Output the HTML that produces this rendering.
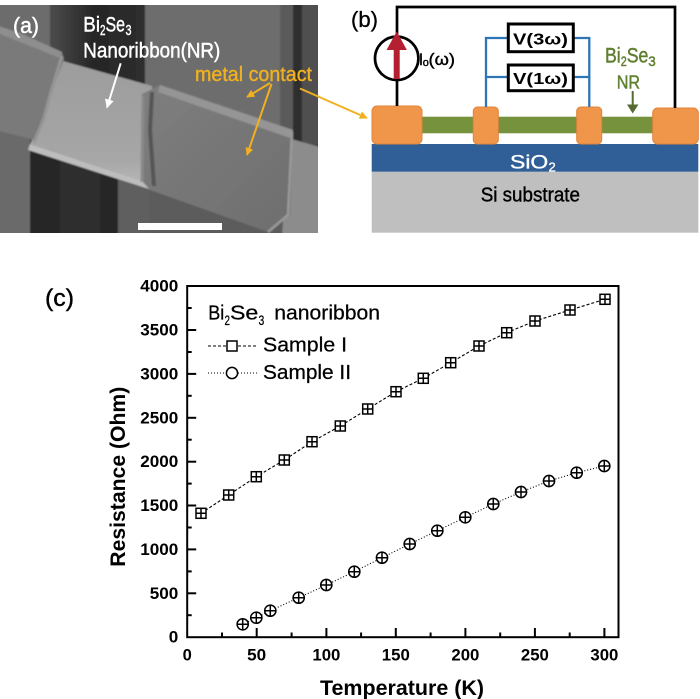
<!DOCTYPE html>
<html><head><meta charset="utf-8"><style>
html,body{margin:0;padding:0;background:#fff;}
svg{display:block;}
text{font-family:"Liberation Sans",Arial,sans-serif;}
</style></head><body>
<svg width="700" height="699" viewBox="0 0 700 699" xmlns="http://www.w3.org/2000/svg">
<defs>
<marker id="ah" viewBox="0 0 10 10" refX="9" refY="5" markerWidth="4" markerHeight="4" orient="auto"><path d="M0,0 L10,5 L0,10 z" fill="#f0b020"/></marker>
<marker id="ahw" viewBox="0 0 10 10" refX="9" refY="5" markerWidth="4.5" markerHeight="4.5" orient="auto"><path d="M0,0 L10,5 L0,10 z" fill="#fff"/></marker>
<linearGradient id="gDark" x1="0" x2="1" y1="0" y2="0"><stop offset="0" stop-color="#4c4c4c"/><stop offset="0.45" stop-color="#262626"/><stop offset="1" stop-color="#2e2e2e"/></linearGradient>
<linearGradient id="gRib" x1="0" x2="0" y1="0" y2="1"><stop offset="0" stop-color="#9c9c9c"/><stop offset="0.8" stop-color="#a6a6a6"/><stop offset="1" stop-color="#b6b6b6"/></linearGradient>
<linearGradient id="gBlk" x1="0" x2="1" y1="0" y2="1"><stop offset="0" stop-color="#7e7e7e"/><stop offset="1" stop-color="#6e6e6e"/></linearGradient>
<clipPath id="semclip"><rect x="0" y="5" width="318" height="228"/></clipPath>
<filter id="soft" x="0" y="0" width="1" height="1"><feGaussianBlur stdDeviation="0.8"/></filter>
</defs>

<!-- ===== Panel (a) SEM ===== -->
<g clip-path="url(#semclip)">
 <g filter="url(#soft)">
  <rect x="-5" y="0" width="330" height="240" fill="#3a3a3a"/>
  <rect x="-5" y="0" width="57" height="65" fill="#6c6c6c"/>
  <rect x="50" y="0" width="97" height="95" fill="url(#gDark)"/>
  <rect x="145" y="0" width="148" height="135" fill="#6d6d6d"/>
  <rect x="280" y="0" width="13" height="135" fill="#5a5a5a"/>
  <rect x="293" y="0" width="30" height="145" fill="#2e2e2e"/>
  <rect x="302" y="0" width="21" height="145" fill="#505050"/>
  <rect x="-5" y="128" width="37" height="110" fill="#6a6a6a"/>
  <rect x="30" y="140" width="95" height="98" fill="#262626"/>
  <rect x="60" y="140" width="40" height="98" fill="#2e2e2e"/>
  <rect x="118" y="150" width="40" height="88" fill="#5e5e5e"/>
  <rect x="150" y="180" width="140" height="58" fill="#5c5c5c"/>
  <polygon points="288,138 323,148 323,238 282,238" fill="#8c8c8c"/>
  <polygon points="52,58 152,86 152,184 30,144 42,120 48,95" fill="url(#gRib)"/>
  <polygon points="30,144 152,184 152,190 28,150" fill="#bdbdbd"/>
  <polygon points="-5,25 20,33 62,52 64,60 52,90 46,115 36,140 -5,130" fill="#7a7a7a"/>
  <polygon points="-5,25 20,33 62,52 60,58 -5,32" fill="#8e8e8e"/>
  <polyline points="62,56 50,95 44,118 34,142" fill="none" stroke="#959595" stroke-width="3"/>
  <polygon points="142,94 160,85 293,130 290,215 268,232 150,190 143,182" fill="url(#gBlk)"/>
  <polygon points="160,85 293,130 290,138 158,92" fill="#959595"/>
  <polyline points="152,92 150,130 154,186" fill="none" stroke="#545454" stroke-width="4"/>
  <polyline points="143,96 142,182" fill="none" stroke="#8a8a8a" stroke-width="3"/>
  <polyline points="292,132 288,215 268,232" fill="none" stroke="#9a9a9a" stroke-width="2.5"/>
 </g>
  <rect x="138" y="223" width="84" height="7" fill="#fff"/>
</g>
<!-- (a) texts -->
<g fill="#fff" stroke="#fff" stroke-width="0.45">
<text x="13" y="33" font-size="22" textLength="26" lengthAdjust="spacingAndGlyphs">(a)</text>
<text x="83.3" y="31.7" font-size="21" textLength="16.7" lengthAdjust="spacingAndGlyphs">Bi</text>
<text x="100" y="35" font-size="15" textLength="5.5" lengthAdjust="spacingAndGlyphs">2</text>
<text x="105.5" y="31.7" font-size="21" textLength="19.5" lengthAdjust="spacingAndGlyphs">Se</text>
<text x="125.5" y="35" font-size="15" textLength="6" lengthAdjust="spacingAndGlyphs">3</text>
<text x="83.3" y="57.3" font-size="21" textLength="137" lengthAdjust="spacingAndGlyphs">Nanoribbon(NR)</text>
</g>
<line x1="120.7" y1="63.3" x2="107" y2="107.5" stroke="#fff" stroke-width="2" marker-end="url(#ahw)"/>
<text x="195" y="81" font-size="20" fill="#f0b020" stroke="#f0b020" stroke-width="0.4" textLength="117" lengthAdjust="spacingAndGlyphs">metal contact</text>
<line x1="270" y1="83" x2="247" y2="97" stroke="#f0b020" stroke-width="2" marker-end="url(#ah)"/>
<line x1="271.5" y1="84" x2="247" y2="155" stroke="#f0b020" stroke-width="2" marker-end="url(#ah)"/>
<line x1="300" y1="88.5" x2="367" y2="118" stroke="#f0b020" stroke-width="2" marker-end="url(#ah)"/>

<!-- ===== Panel (b) schematic ===== -->
<text x="351" y="27" font-size="22" fill="#000" stroke="#000" stroke-width="0.3" textLength="27" lengthAdjust="spacingAndGlyphs">(b)</text>
<rect x="371.7" y="171.7" width="326.6" height="61" fill="#bfbfbf"/>
<rect x="371.7" y="144" width="326.6" height="27.7" fill="#2f5f96"/>
<g fill="#fff" stroke="#fff" stroke-width="0.35">
<text x="510" y="168.3" font-size="19.5" textLength="38.3" lengthAdjust="spacingAndGlyphs">SiO</text>
<text x="548.5" y="171.5" font-size="13">2</text>
</g>
<text x="480.7" y="201.7" font-size="20" fill="#000" stroke="#000" stroke-width="0.4" textLength="99.3" lengthAdjust="spacingAndGlyphs">Si substrate</text>
<rect x="420" y="116.7" width="234" height="16.6" fill="#76923c"/>
<rect x="372" y="106" width="50" height="38" rx="5" fill="#f0964a" stroke="#e0843a" stroke-width="1"/>
<rect x="473.3" y="107" width="25" height="37" rx="4" fill="#f0964a" stroke="#e0843a" stroke-width="1"/>
<rect x="576.7" y="107" width="25" height="37" rx="4" fill="#f0964a" stroke="#e0843a" stroke-width="1"/>
<rect x="652.7" y="108" width="45.6" height="36" rx="5" fill="#f0964a" stroke="#e0843a" stroke-width="1"/>
<polyline points="397,36.6 397,7 675,7 675,108" fill="none" stroke="#000" stroke-width="2.7"/>
<line x1="397" y1="80" x2="397" y2="106" stroke="#000" stroke-width="2.7"/>
<circle cx="396.7" cy="58.3" r="21.7" fill="#fff" stroke="#000" stroke-width="2.7"/>
<line x1="396.7" y1="79" x2="396.7" y2="48" stroke="#b52030" stroke-width="6"/>
<polygon points="386.5,50 406.9,50 396.7,31.5" fill="#b52030"/>
<g fill="#000" stroke="#000" stroke-width="0.4">
<text x="419" y="65" font-size="17" textLength="4" lengthAdjust="spacingAndGlyphs">I</text>
<text x="422.7" y="66" font-size="11">o</text>
<text x="428.5" y="65" font-size="17" textLength="26.5" lengthAdjust="spacingAndGlyphs">(ω)</text>
</g>
<polyline points="486,107 486,38 508,38" fill="none" stroke="#2e75b6" stroke-width="2.3"/>
<polyline points="573,38 589.3,38 589.3,107" fill="none" stroke="#2e75b6" stroke-width="2.3"/>
<line x1="486" y1="77" x2="508" y2="77" stroke="#2e75b6" stroke-width="2.3"/>
<line x1="573" y1="77" x2="589.3" y2="77" stroke="#2e75b6" stroke-width="2.3"/>
<rect x="508.3" y="24" width="65" height="27.7" fill="#fff" stroke="#000" stroke-width="3"/>
<rect x="508.3" y="65" width="65" height="25.7" fill="#fff" stroke="#000" stroke-width="3"/>
<text x="513" y="44.5" font-size="16" font-weight="bold" fill="#000" textLength="55" lengthAdjust="spacingAndGlyphs">V(3ω)</text>
<text x="513" y="84" font-size="16" font-weight="bold" fill="#000" textLength="55" lengthAdjust="spacingAndGlyphs">V(1ω)</text>
<g fill="#5f7f2f" stroke="#5f7f2f" stroke-width="0.45">
<text x="605" y="62.7" font-size="21" textLength="15.7" lengthAdjust="spacingAndGlyphs">Bi</text>
<text x="620.7" y="66" font-size="14" textLength="6" lengthAdjust="spacingAndGlyphs">2</text>
<text x="626.7" y="62.7" font-size="21" textLength="21.6" lengthAdjust="spacingAndGlyphs">Se</text>
<text x="648.3" y="66" font-size="14" textLength="7.5" lengthAdjust="spacingAndGlyphs">3</text>
<text x="616.7" y="88.3" font-size="18.5" textLength="23.3" lengthAdjust="spacingAndGlyphs">NR</text>
</g>
<line x1="632.7" y1="91" x2="632.7" y2="106" stroke="#556b2f" stroke-width="2"/>
<polygon points="627,104.5 638.4,104.5 632.7,113.5" fill="#556b2f"/>

<!-- ===== Panel (c) chart ===== -->
<text x="45" y="306" font-size="24" fill="#000" stroke="#000" stroke-width="0.4" textLength="29" lengthAdjust="spacingAndGlyphs">(c)</text>
<rect x="187.2" y="286" width="431.3" height="351.2" fill="none" stroke="#000" stroke-width="2"/>
<g stroke="#000" stroke-width="2">
  <line x1="256.7" y1="637.2" x2="256.7" y2="628"/>
  <line x1="326.4" y1="637.2" x2="326.4" y2="628"/>
  <line x1="395.8" y1="637.2" x2="395.8" y2="628"/>
  <line x1="465.4" y1="637.2" x2="465.4" y2="628"/>
  <line x1="534.9" y1="637.2" x2="534.9" y2="628"/>
  <line x1="604.4" y1="637.2" x2="604.4" y2="628"/>
  <line x1="222" y1="637.2" x2="222" y2="632.5"/>
  <line x1="291.6" y1="637.2" x2="291.6" y2="632.5"/>
  <line x1="361.1" y1="637.2" x2="361.1" y2="632.5"/>
  <line x1="430.6" y1="637.2" x2="430.6" y2="632.5"/>
  <line x1="500.2" y1="637.2" x2="500.2" y2="632.5"/>
  <line x1="569.7" y1="637.2" x2="569.7" y2="632.5"/>
  <line x1="187.2" y1="593.3" x2="196.2" y2="593.3"/>
  <line x1="187.2" y1="549.4" x2="196.2" y2="549.4"/>
  <line x1="187.2" y1="505.5" x2="196.2" y2="505.5"/>
  <line x1="187.2" y1="461.7" x2="196.2" y2="461.7"/>
  <line x1="187.2" y1="417.8" x2="196.2" y2="417.8"/>
  <line x1="187.2" y1="373.9" x2="196.2" y2="373.9"/>
  <line x1="187.2" y1="330.0" x2="196.2" y2="330.0"/>
  <line x1="187.2" y1="615.2" x2="191.7" y2="615.2"/>
  <line x1="187.2" y1="571.4" x2="191.7" y2="571.4"/>
  <line x1="187.2" y1="527.5" x2="191.7" y2="527.5"/>
  <line x1="187.2" y1="483.6" x2="191.7" y2="483.6"/>
  <line x1="187.2" y1="439.7" x2="191.7" y2="439.7"/>
  <line x1="187.2" y1="395.8" x2="191.7" y2="395.8"/>
  <line x1="187.2" y1="352.0" x2="191.7" y2="352.0"/>
  <line x1="187.2" y1="308.0" x2="191.7" y2="308.0"/>
</g>
<g font-size="16.5" font-weight="bold" fill="#000" text-anchor="end">
  <text x="178.3" y="642.7" textLength="9.5" lengthAdjust="spacingAndGlyphs">0</text>
  <text x="178.3" y="598.8" textLength="28.5" lengthAdjust="spacingAndGlyphs">500</text>
  <text x="178.3" y="554.9" textLength="38" lengthAdjust="spacingAndGlyphs">1000</text>
  <text x="178.3" y="511.0" textLength="38" lengthAdjust="spacingAndGlyphs">1500</text>
  <text x="178.3" y="467.2" textLength="38" lengthAdjust="spacingAndGlyphs">2000</text>
  <text x="178.3" y="423.3" textLength="38" lengthAdjust="spacingAndGlyphs">2500</text>
  <text x="178.3" y="379.4" textLength="38" lengthAdjust="spacingAndGlyphs">3000</text>
  <text x="178.3" y="335.5" textLength="38" lengthAdjust="spacingAndGlyphs">3500</text>
  <text x="178.3" y="291.5" textLength="38" lengthAdjust="spacingAndGlyphs">4000</text>
</g>
<g font-size="16.5" font-weight="bold" fill="#000" text-anchor="middle">
  <text x="187.2" y="660.7">0</text>
  <text x="256.7" y="660.7" textLength="19" lengthAdjust="spacingAndGlyphs">50</text>
  <text x="326.4" y="660.7" textLength="28" lengthAdjust="spacingAndGlyphs">100</text>
  <text x="395.8" y="660.7" textLength="28" lengthAdjust="spacingAndGlyphs">150</text>
  <text x="465.4" y="660.7" textLength="28" lengthAdjust="spacingAndGlyphs">200</text>
  <text x="534.9" y="660.7" textLength="28" lengthAdjust="spacingAndGlyphs">250</text>
  <text x="604.4" y="660.7" textLength="28" lengthAdjust="spacingAndGlyphs">300</text>
</g>
<text x="402" y="695" font-size="21.5" font-weight="bold" fill="#000" text-anchor="middle" textLength="164" lengthAdjust="spacingAndGlyphs">Temperature (K)</text>
<text transform="translate(125,476.7) rotate(-90)" x="0" y="0" font-size="21.5" font-weight="bold" fill="#000" text-anchor="middle" textLength="180" lengthAdjust="spacingAndGlyphs">Resistance (Ohm)</text>

<polyline fill="none" stroke="#000" stroke-width="1.1" stroke-dasharray="3,2"
 points="201,513.3 228.7,495 256.3,476.7 284.3,460 312,441.7 340.3,426 367.7,409 396,391.7 423.3,378.3 450.7,362.7 479,346 506.7,332.7 535,321 570,310 605,299.3"/>
<polyline fill="none" stroke="#000" stroke-width="1.1" stroke-dasharray="1,2"
 points="242.7,624.3 256.3,617.7 270.3,610.7 298.7,597.7 326.3,585 354.3,571.7 382,557.7 409.7,544 437.3,530.7 465.3,517.3 493.3,504 521,492 549,481 576.7,472.7 604.3,466"/>

<g fill="#fff" stroke="#000" stroke-width="1.5">
<g transform="translate(201,513.3)"><rect x="-5" y="-5" width="10" height="10"/><path d="M-5,0H5M0,-5V5"/></g>
<g transform="translate(228.7,495)"><rect x="-5" y="-5" width="10" height="10"/><path d="M-5,0H5M0,-5V5"/></g>
<g transform="translate(256.3,476.7)"><rect x="-5" y="-5" width="10" height="10"/><path d="M-5,0H5M0,-5V5"/></g>
<g transform="translate(284.3,460)"><rect x="-5" y="-5" width="10" height="10"/><path d="M-5,0H5M0,-5V5"/></g>
<g transform="translate(312,441.7)"><rect x="-5" y="-5" width="10" height="10"/><path d="M-5,0H5M0,-5V5"/></g>
<g transform="translate(340.3,426)"><rect x="-5" y="-5" width="10" height="10"/><path d="M-5,0H5M0,-5V5"/></g>
<g transform="translate(367.7,409)"><rect x="-5" y="-5" width="10" height="10"/><path d="M-5,0H5M0,-5V5"/></g>
<g transform="translate(396,391.7)"><rect x="-5" y="-5" width="10" height="10"/><path d="M-5,0H5M0,-5V5"/></g>
<g transform="translate(423.3,378.3)"><rect x="-5" y="-5" width="10" height="10"/><path d="M-5,0H5M0,-5V5"/></g>
<g transform="translate(450.7,362.7)"><rect x="-5" y="-5" width="10" height="10"/><path d="M-5,0H5M0,-5V5"/></g>
<g transform="translate(479,346)"><rect x="-5" y="-5" width="10" height="10"/><path d="M-5,0H5M0,-5V5"/></g>
<g transform="translate(506.7,332.7)"><rect x="-5" y="-5" width="10" height="10"/><path d="M-5,0H5M0,-5V5"/></g>
<g transform="translate(535,321)"><rect x="-5" y="-5" width="10" height="10"/><path d="M-5,0H5M0,-5V5"/></g>
<g transform="translate(570,310)"><rect x="-5" y="-5" width="10" height="10"/><path d="M-5,0H5M0,-5V5"/></g>
<g transform="translate(605,299.3)"><rect x="-5" y="-5" width="10" height="10"/><path d="M-5,0H5M0,-5V5"/></g>
</g>
<g fill="#fff" stroke="#000" stroke-width="1.5">
<g transform="translate(242.7,624.3)"><circle r="5.6"/><path d="M-5.6,0H5.6M0,-5.6V5.6"/></g>
<g transform="translate(256.3,617.7)"><circle r="5.6"/><path d="M-5.6,0H5.6M0,-5.6V5.6"/></g>
<g transform="translate(270.3,610.7)"><circle r="5.6"/><path d="M-5.6,0H5.6M0,-5.6V5.6"/></g>
<g transform="translate(298.7,597.7)"><circle r="5.6"/><path d="M-5.6,0H5.6M0,-5.6V5.6"/></g>
<g transform="translate(326.3,585)"><circle r="5.6"/><path d="M-5.6,0H5.6M0,-5.6V5.6"/></g>
<g transform="translate(354.3,571.7)"><circle r="5.6"/><path d="M-5.6,0H5.6M0,-5.6V5.6"/></g>
<g transform="translate(382,557.7)"><circle r="5.6"/><path d="M-5.6,0H5.6M0,-5.6V5.6"/></g>
<g transform="translate(409.7,544)"><circle r="5.6"/><path d="M-5.6,0H5.6M0,-5.6V5.6"/></g>
<g transform="translate(437.3,530.7)"><circle r="5.6"/><path d="M-5.6,0H5.6M0,-5.6V5.6"/></g>
<g transform="translate(465.3,517.3)"><circle r="5.6"/><path d="M-5.6,0H5.6M0,-5.6V5.6"/></g>
<g transform="translate(493.3,504)"><circle r="5.6"/><path d="M-5.6,0H5.6M0,-5.6V5.6"/></g>
<g transform="translate(521,492)"><circle r="5.6"/><path d="M-5.6,0H5.6M0,-5.6V5.6"/></g>
<g transform="translate(549,481)"><circle r="5.6"/><path d="M-5.6,0H5.6M0,-5.6V5.6"/></g>
<g transform="translate(576.7,472.7)"><circle r="5.6"/><path d="M-5.6,0H5.6M0,-5.6V5.6"/></g>
<g transform="translate(604.3,466)"><circle r="5.6"/><path d="M-5.6,0H5.6M0,-5.6V5.6"/></g>
</g>

<g fill="#000" stroke="#000" stroke-width="0.25">
<text x="208.3" y="319.3" font-size="20" textLength="16" lengthAdjust="spacingAndGlyphs">Bi</text>
<text x="224.5" y="325" font-size="14" textLength="5.5" lengthAdjust="spacingAndGlyphs">2</text>
<text x="230" y="319.3" font-size="20" textLength="28.3" lengthAdjust="spacingAndGlyphs">Se</text>
<text x="258.5" y="325" font-size="14" textLength="5.8" lengthAdjust="spacingAndGlyphs">3</text>
<text x="274.3" y="319.3" font-size="20" textLength="105.7" lengthAdjust="spacingAndGlyphs">nanoribbon</text>
<text x="263" y="351.7" font-size="20" textLength="84" lengthAdjust="spacingAndGlyphs">Sample I</text>
<text x="263" y="379" font-size="20" textLength="88" lengthAdjust="spacingAndGlyphs">Sample II</text>
</g>
<line x1="208" y1="346" x2="257" y2="346" stroke="#000" stroke-width="1.1" stroke-dasharray="3,2"/>
<rect x="227" y="341" width="10" height="10" fill="#fff" stroke="#000" stroke-width="1.5"/>
<line x1="208" y1="373" x2="257" y2="373" stroke="#000" stroke-width="1.1" stroke-dasharray="1,2"/>
<circle cx="232" cy="373" r="5.6" fill="#fff" stroke="#000" stroke-width="1.5"/>
</svg>
</body></html>
